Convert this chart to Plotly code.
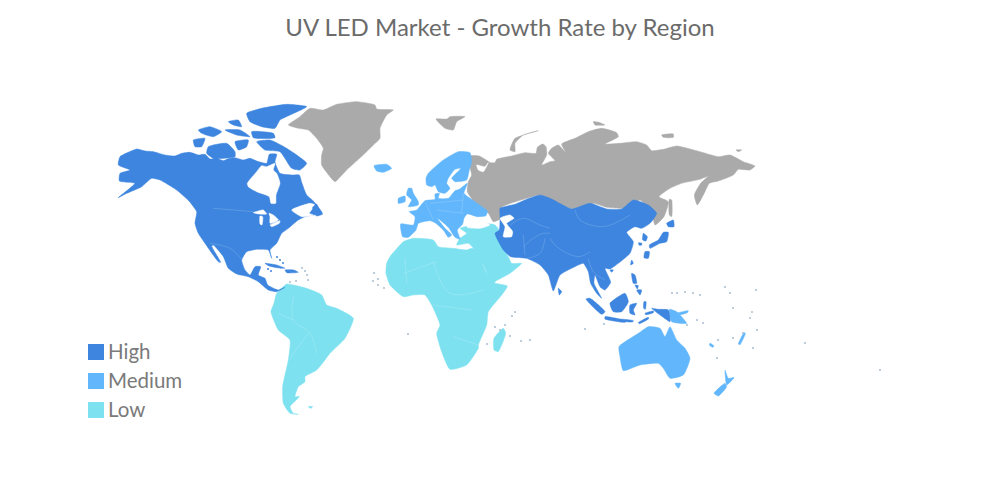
import plotly.graph_objects as go

title = "UV LED Market - Growth Rate by Region"
levels = ["High", "Medium", "Low"]
level_colors = ["#3d85de", "#62b6fb", "#7de1f0"]
legend_x = [96, 96, 96]
legend_y = [352, 381, 410]
legend_text_x = [108, 108, 108]
legend_text_y = [354, 383, 412]
grey = "#aaaaaa"


def crop(points, x0, y0):
    return [(x0 + a / 3, y0 + b / 3) for a, b in points]


# North America
mainland = crop([(30, 185), (55, 172), (80, 162), (105, 168), (130, 170), (165, 180), (195, 183), (215, 175), (240, 172),
                 (265, 180), (285, 178), (300, 192), (320, 190), (340, 197), (358, 190), (375, 188), (400, 195),
                 (420, 190), (440, 198), (470, 205), (478, 178), (500, 178), (495, 200), (510, 235),
                 (545, 240), (568, 240), (575, 262), (590, 300), (612, 320), (637, 355)], 110, 95) + crop(
    [(430, 45), (405, 50), (385, 60), (355, 85), (335, 100), (320, 130), (300, 150), (305, 175), (295, 150), (260, 148),
     (230, 155), (215, 180), (225, 210), (240, 225), (255, 200), (272, 200), (265, 225), (285, 235), (293, 255),
     (325, 270), (345, 262), (320, 275), (295, 270), (265, 245), (235, 230), (200, 222), (175, 205), (160, 170),
     (130, 135), (125, 138), (152, 187), (145, 185), (112, 140), (85, 100), (75, 70), (80, 35), (55, 0)], 170, 200) + crop(
    [(240, 320), (200, 285), (150, 255), (125, 250), (95, 275), (50, 295), (25, 308), (75, 265), (55, 262),
     (28, 258), (30, 235), (60, 225), (25, 210)], 110, 95)
banks = crop([(250, 135), (285, 130), (275, 155), (255, 155)], 110, 95)
victoria = crop([(295, 155), (350, 145), (375, 170), (375, 185), (310, 190), (290, 175)], 110, 95)
baffin = crop([(440, 140), (480, 135), (530, 160), (590, 205), (570, 225), (545, 220), (510, 170), (465, 165)], 110, 95)
somerset = crop([(375, 140), (415, 135), (410, 155), (385, 165)], 110, 95)
ellesmere = crop([(410, 55), (455, 40), (530, 28), (590, 35), (540, 60), (510, 75), (495, 100), (455, 95),
                  (420, 80)], 110, 95)
devon = crop([(425, 110), (490, 115), (495, 128), (430, 128)], 110, 95)
axel = crop([(355, 80), (385, 75), (395, 95), (370, 90)], 110, 95)
melville = crop([(265, 105), (300, 95), (335, 110), (310, 125), (275, 115)], 110, 95)
bathurst = crop([(345, 105), (390, 105), (420, 125), (380, 120)], 110, 95)
newfoundland = crop([(428, 22), (440, 12), (448, 35), (458, 42), (440, 48), (432, 40)], 170, 200)
cuba = crop([(285, 190), (320, 195), (345, 205), (320, 203), (295, 197)], 170, 200)
hispaniola = crop([(345, 210), (372, 210), (385, 217), (350, 218)], 170, 200)

# Asia, high group
asia = crop([(30, 40), (75, 28), (105, 15), (150, 0), (185, 12), (245, 42), (300, 25), (350, 42), (395, 42),
             (430, 15), (475, 30), (500, 55), (480, 85), (455, 100), (435, 95), (410, 112), (430, 140), (420, 175),
             (385, 205), (360, 222), (345, 220), (362, 262), (345, 285), (330, 275), (315, 240), (312, 265),
             (335, 310), (320, 295), (302, 265), (295, 230), (280, 205), (265, 210), (210, 240), (190, 288),
             (175, 240), (150, 210), (110, 190), (62, 185), (40, 165), (15, 115), (28, 105), (30, 60)], 490, 195)
korea = crop([(460, 115), (472, 125), (468, 138), (458, 135)], 490, 195)
sri_lanka = crop([(205, 280), (215, 290), (208, 300)], 490, 195)
hainan = crop([(360, 225), (370, 225), (365, 232)], 490, 195)
taiwan = crop([(425, 195), (430, 205), (422, 210)], 490, 195)
luzon = crop([(425, 235), (435, 240), (440, 265), (430, 265)], 490, 195)
visayas = crop([(435, 270), (445, 272), (442, 282)], 490, 195)
mindanao = crop([(440, 285), (455, 285), (450, 300)], 490, 195)
hokkaido = crop([(530, 85), (550, 75), (552, 95), (535, 95)], 490, 195)
honshu = crop([(520, 112), (535, 112), (530, 140), (510, 145), (480, 160), (478, 150), (505, 135)], 490, 195)
kyushu = crop([(465, 170), (478, 170), (475, 190), (462, 188)], 490, 195)
jeju = crop([(446, 143), (456, 145), (454, 151), (447, 150)], 490, 195)
sumatra = crop([(288, 312), (300, 310), (345, 350), (335, 358)], 490, 195)
borneo = crop([(360, 325), (405, 295), (415, 320), (395, 350), (370, 350)], 490, 195)
java = crop([(345, 365), (410, 378), (405, 382), (345, 372)], 490, 195)
sulawesi = crop([(420, 330), (440, 325), (430, 345), (435, 360), (420, 355)], 490, 195)
sunda = crop([(150, 118), (190, 122), (188, 126), (150, 122)], 570, 280)
timor = crop([(205, 128), (235, 112), (236, 116), (208, 131)], 570, 280)
halmahera = crop([(222, 65), (228, 65), (226, 88), (221, 85)], 570, 280)
seram = crop([(225, 100), (250, 93), (250, 98), (227, 104)], 570, 280)
new_guinea_west = crop([(245, 85), (265, 88), (295, 90), (300, 125), (270, 105)], 570, 280)

# Europe and Oceania, medium group
scandinavia = crop([(138, 85), (145, 70), (190, 30), (235, 5), (270, 8), (275, 35), (268, 60), (260, 90), (225, 95),
                    (215, 85), (243, 55), (225, 58), (205, 85), (200, 100), (210, 115), (195, 130), (175, 125),
                    (165, 105), (155, 110), (140, 105)], 380, 150)
europe = crop([(165, 132), (178, 130), (175, 145), (205, 145), (225, 122), (238, 118), (262, 100), (252, 130),
               (285, 155), (322, 183), (318, 197), (290, 200), (262, 192), (252, 205), (248, 222), (232, 240),
               (240, 268), (225, 262), (205, 232), (180, 210), (172, 205), (195, 235), (215, 255), (205, 262),
               (190, 240), (165, 218), (150, 212), (130, 215), (115, 220), (108, 240), (85, 262), (68, 260),
               (62, 222), (100, 225), (105, 200), (88, 185), (110, 180), (135, 152), (165, 148)], 380, 150)
britain = crop([(85, 115), (95, 115), (100, 130), (115, 155), (115, 165), (85, 170), (95, 150), (80, 135)], 380, 150)
ireland = crop([(55, 145), (75, 138), (75, 155), (55, 160)], 380, 150)
iceland = crop([(282, 212), (320, 208), (335, 220), (310, 232), (290, 228)], 280, 95)
australia = crop([(147, 200), (205, 160), (235, 140), (270, 145), (285, 170), (300, 140), (320, 180), (345, 205),
                  (360, 235), (340, 285), (300, 295), (280, 265), (265, 250), (210, 255), (160, 272),
                  (150, 230)], 570, 280)
tasmania = crop([(315, 310), (332, 310), (325, 325)], 570, 280)
nz_north = crop([(465, 270), (475, 295), (492, 293), (470, 315)], 570, 280)
nz_south = crop([(432, 340), (465, 310), (470, 320), (445, 348)], 570, 280)
png = crop([(298, 88), (320, 95), (350, 130), (305, 125)], 570, 280)
new_britain = crop([(320, 100), (355, 92), (352, 98), (325, 105)], 570, 280)
vanuatu = crop([(505, 192), (522, 158), (526, 160), (510, 194)], 570, 280)
fiji = crop([(420, 190), (432, 198), (428, 202), (418, 195)], 570, 280)

# South America, Africa and Middle East, low group
south_america = crop([(50, 40), (80, 12), (100, 15), (140, 25), (185, 45), (200, 75), (230, 85), (280, 115),
                      (255, 175), (210, 220), (195, 240), (170, 270), (135, 290), (135, 305), (115, 320), (105, 350),
                      (118, 350), (90, 380), (100, 400), (115, 403), (90, 400), (70, 370), (68, 320), (85, 240),
                      (90, 180), (55, 150), (33, 95), (42, 70)], 260, 280)
falklands = crop([(145, 380), (158, 380), (152, 385)], 260, 280)
africa = crop([(50, 100), (60, 80), (90, 45), (100, 35), (130, 25), (190, 30), (205, 50), (250, 55), (290, 60),
               (305, 55), (320, 60), (345, 120), (372, 158), (412, 168), (395, 195), (355, 245), (350, 285),
               (325, 345), (325, 355), (290, 405), (240, 418), (215, 365), (200, 310), (210, 285), (185, 225),
               (165, 195), (130, 195), (100, 200), (60, 165), (48, 130)], 370, 230)
madagascar = crop([(400, 295), (407, 310), (385, 365), (372, 360), (372, 325)], 370, 230)
arabia = crop([(255, 290), (300, 280), (345, 285), (360, 305), (355, 330), (385, 380), (395, 400), (425, 400),
               (390, 430), (345, 455), (340, 462), (300, 385), (285, 360), (265, 340), (230, 345), (240, 325),
               (260, 310), (240, 295)], 380, 130)

# Russia and Greenland, grey
russia = crop([(30, 108), (58, 108), (92, 128), (105, 128), (110, 118), (155, 108), (195, 98), (228, 100), (232, 82),
               (248, 72), (258, 80), (260, 105), (245, 135), (270, 125), (285, 122), (265, 100), (275, 85), (295, 75),
               (318, 98), (305, 72), (345, 55), (385, 35), (425, 25), (470, 38), (475, 50), (435, 72), (480, 70),
               (530, 65), (560, 75), (575, 92), (610, 88), (650, 78), (720, 95), (775, 110), (810, 105), (850, 125),
               (885, 138), (870, 150), (835, 148), (820, 165), (775, 183), (748, 190), (735, 215), (712, 255),
               (703, 225), (722, 190), (745, 168), (720, 178), (665, 190), (630, 205), (597, 230), (625, 245),
               (612, 290), (585, 315), (575, 278), (540, 240), (515, 255), (490, 265), (440, 262), (400, 250),
               (345, 268), (300, 255), (240, 225), (200, 235), (125, 262), (150, 285), (130, 293), (100, 305),
               (85, 280), (50, 255), (22, 215), (25, 185), (35, 165), (28, 135)], 460, 120)
sakhalin = crop([(628, 238), (635, 240), (635, 290), (628, 285)], 460, 120)
novaya_zemlya = crop([(150, 90), (165, 55), (235, 32), (190, 45), (165, 70), (165, 95)], 460, 120)
severnaya = crop([(400, 5), (420, 8), (435, 15), (405, 15)], 460, 120)
new_siberian = crop([(605, 45), (640, 42), (640, 52), (610, 52)], 460, 120)
wrangel = crop([(828, 90), (845, 90), (835, 95)], 460, 120)
greenland = crop([(25, 90), (60, 65), (90, 40), (130, 45), (170, 28), (230, 20), (285, 30), (290, 42), (340, 45),
                  (320, 60), (300, 100), (300, 130), (280, 150), (255, 175), (200, 225), (165, 260), (150, 245),
                  (125, 210), (125, 180), (130, 160), (110, 130), (85, 105), (55, 100)], 280, 95)
svalbard = crop([(468, 72), (500, 72), (510, 65), (555, 65), (530, 80), (520, 105), (495, 100)], 280, 95)

# lakes and inland seas, painted over the land
hudson_bay = crop([(412, 265), (440, 230), (455, 212), (470, 215), (495, 205), (490, 225), (500, 235), (510, 265),
                   (498, 300), (497, 325), (483, 325), (478, 305), (440, 290), (415, 275)], 110, 95)
superior = crop([(250, 38), (280, 30), (290, 42), (268, 42)], 170, 200)
michigan = crop([(270, 48), (278, 50), (276, 75), (270, 72)], 170, 200)
huron = crop([(297, 40), (310, 45), (325, 60), (300, 70), (300, 50)], 170, 200)
erie = crop([(300, 75), (330, 62), (328, 70), (305, 80)], 170, 200)
st_lawrence = crop([(365, 30), (420, 10), (435, 15), (418, 40), (430, 45), (395, 50)], 170, 200)
caspian = crop([(30, 70), (60, 60), (72, 70), (50, 85), (68, 110), (65, 125), (40, 125), (45, 95)], 490, 195)
white_sea = crop([(50, 135), (75, 140), (85, 128), (70, 155), (55, 150)], 460, 120)
black_sea = crop([(255, 205), (262, 195), (290, 203), (330, 225), (300, 235), (262, 232)], 380, 150)

# faint country borders
high_borders = [crop(b, 490, 195) for b in [
    [(60, 90), (100, 70), (150, 90), (180, 100)], [(255, 45), (270, 75), (340, 95), (420, 60)],
    [(180, 130), (200, 155), (265, 185), (300, 170)], [(100, 155), (130, 130), (160, 115), (180, 115)],
    [(100, 120), (105, 180)], [(110, 190), (150, 175), (165, 130)], [(295, 190), (310, 230), (345, 255)]]]
high_borders += [crop(b, 170, 200) for b in [[(130, 25), (250, 35)], [(120, 130), (180, 145), (215, 178)]]]
medium_borders = [crop(b, 380, 150) for b in [
    [(135, 155), (160, 210)], [(150, 160), (250, 150)], [(170, 180), (250, 190)], [(250, 130), (245, 190)]]]
low_borders = [crop(b, 370, 230) for b in [
    [(190, 95), (240, 190), (340, 180)], [(100, 130), (200, 95)], [(190, 225), (305, 240)],
    [(250, 320), (325, 345)], [(105, 85), (110, 160)]]]
low_borders += [crop(b, 260, 280) for b in [
    [(100, 50), (100, 120), (150, 160), (170, 220)], [(85, 240), (145, 160)], [(100, 120), (55, 100)]]]

# small islands
island_x = [672, 677, 685, 693, 700, 725, 730, 733, 752, 750, 756, 757, 753, 718, 733, 743, 697, 703, 687, 585, 604,
            717, 805, 880, 374, 378, 373, 378, 384, 408, 495, 487, 515, 512, 500, 505, 510, 521, 530,
            302, 305, 307, 308, 296, 290]
island_y = [293, 293, 292, 293, 295, 287, 293, 308, 312, 318, 290, 330, 348, 340, 338, 333, 320, 323, 325, 329, 324,
            358, 343, 370, 273, 279, 281, 285, 288, 334, 327, 344, 312, 316, 330, 325, 336, 341, 340,
            268, 271, 275, 280, 281, 282]
caribbean_x = [277, 280, 283, 268, 271, 272]
caribbean_y = [257, 260, 263, 269, 271, 242]

high_shapes = [mainland, banks, victoria, baffin, somerset, ellesmere, devon, axel, melville, bathurst, cuba,
               hispaniola, asia, korea, sri_lanka, hainan, taiwan, luzon, visayas, mindanao, hokkaido, honshu, kyushu,
               jeju, sumatra, borneo, java, sulawesi, sunda, timor, halmahera, seram, new_guinea_west]
medium_shapes = [scandinavia, europe, britain, ireland, iceland, australia, tasmania, nz_north, nz_south, png,
                 new_britain, vanuatu, fiji]
low_shapes = [south_america, falklands, africa, madagascar, arabia]
grey_shapes = [russia, sakhalin, novaya_zemlya, severnaya, new_siberian, wrangel, greenland, svalbard]
water_shapes = [hudson_bay, superior, michigan, huron, erie, st_lawrence, caspian, white_sea, black_sea]


def to_xy(shapes, close=True):
    xs, ys = [], []
    for s in shapes:
        pts = s + [s[0]] if close else s
        xs += [p[0] for p in pts] + [None]
        ys += [p[1] for p in pts] + [None]
    return xs, ys


def add_land(fig, shapes, color):
    xs, ys = to_xy(shapes)
    fig.add_trace(go.Scatter(x=xs, y=ys, mode="lines", fill="toself", fillcolor=color,
                             line=dict(color=color, width=0.5, shape="spline", smoothing=0.5),
                             showlegend=False, hoverinfo="skip"))


def add_borders(fig, lines, color):
    xs, ys = to_xy(lines, close=False)
    fig.add_trace(go.Scatter(x=xs, y=ys, mode="lines", line=dict(color=color, width=0.6, shape="spline"),
                             showlegend=False, hoverinfo="skip"))


fig = go.Figure()
add_land(fig, grey_shapes, grey)
add_land(fig, low_shapes, level_colors[2])
add_land(fig, medium_shapes, level_colors[1])
add_land(fig, high_shapes, level_colors[0])
add_land(fig, water_shapes, "white")
add_land(fig, [newfoundland], level_colors[0])
add_borders(fig, high_borders, "#6ea6ea")
add_borders(fig, medium_borders, "#8cc9fc")
add_borders(fig, low_borders, "#a5eaf4")
fig.add_trace(go.Scatter(x=island_x, y=island_y, mode="markers", marker=dict(color="#a8bccf", size=2),
                         showlegend=False, hoverinfo="skip"))
fig.add_trace(go.Scatter(x=caribbean_x, y=caribbean_y, mode="markers", marker=dict(color=level_colors[0], size=2),
                         showlegend=False, hoverinfo="skip"))

# legend swatches with their labels
fig.add_trace(go.Scatter(x=legend_x, y=legend_y, mode="markers",
                         marker=dict(color=level_colors, size=16, symbol="square"),
                         showlegend=False, hoverinfo="skip"))
fig.add_trace(go.Scatter(x=legend_text_x, y=legend_text_y, mode="text", text=levels, textposition="middle right",
                         textfont=dict(family="Lato", size=20.5, color="#7a7a7a"),
                         showlegend=False, hoverinfo="skip"))

fig.update_xaxes(range=[0, 1000], visible=False)
fig.update_yaxes(range=[504, 0], visible=False)
fig.update_layout(width=1000, height=504, margin=dict(l=0, r=0, t=0, b=0), plot_bgcolor="white", paper_bgcolor="white",
                  showlegend=False,
                  title=dict(text=title, x=0.5, y=0.945, xanchor="center", yanchor="middle",
                             font=dict(family="Lato", size=24, color="#6b6b6b")))
# the page's default body margin would push the figure off by 8px
fig.write_html("out.html", post_script="document.body.style.margin='0';", config={"displayModeBar": False})
